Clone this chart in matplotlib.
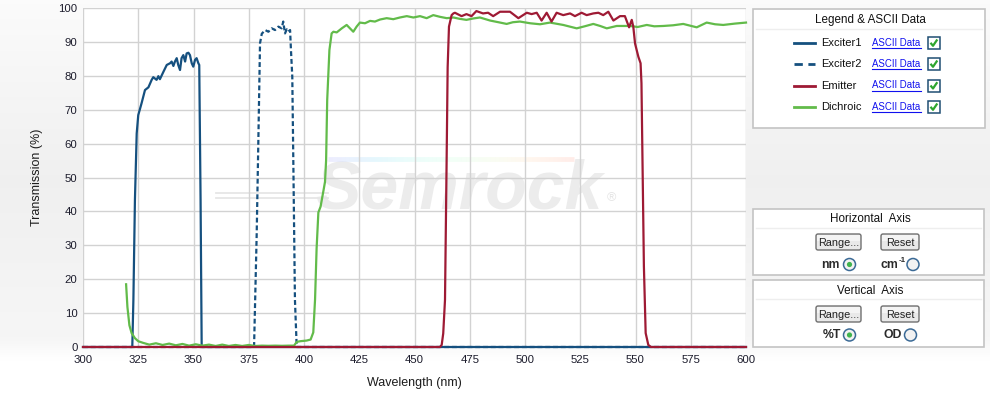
import numpy as np
import matplotlib
matplotlib.use("Agg")
import matplotlib.pyplot as plt
from matplotlib.patches import Rectangle, FancyBboxPatch, Circle
from matplotlib.collections import LineCollection

# ---------------- data ----------------
x_ticks = [300, 325, 350, 375, 400, 425, 450, 475, 500, 525, 550, 575, 600]
y_ticks = [0, 10, 20, 30, 40, 50, 60, 70, 80, 90, 100]

ex1_wl = [300, 322.3, 322.8, 323.5, 324.3, 325.0, 326.5, 328.05, 329.6, 331.07, 331.8, 333.3,
          334.1, 334.8, 336.4, 337.9, 339.4, 340.1, 340.9, 341.6, 342.4, 343.1, 343.9, 344.6,
          345.4, 346.2, 346.9, 347.7, 348.4, 349.2, 349.9, 350.7, 351.4, 352.2, 352.6, 353.2,
          353.7, 600]
ex1_T = [0, 0, 13.9, 43.4, 63, 68.4, 71.9, 75.8, 76.6, 78.8, 79.6, 78.8,
         79.9, 79.0, 81.2, 83.2, 83.7, 84.2, 82.9, 84.2, 85.2, 83.2, 81.7, 85.2,
         86.1, 84.2, 86.6, 86.8, 86.1, 83.7, 82.7, 84.7, 85.2, 83.7, 83.2, 43.4,
         0, 0]

ex2_wl = [300, 377.4, 378.6, 379.4, 380.1, 380.9, 382.4, 383.9, 385.4, 386.9, 388.4, 389.9,
          390.6, 391.4, 392.2, 392.9, 393.7, 394.1, 394.7, 395.2, 395.9, 396.7, 600]
ex2_T = [0, 0, 33.5, 63, 89.6, 92.4, 93.5, 93, 94, 93.5, 94.5, 94,
         96, 92.5, 93.7, 93, 93.5, 87.6, 79.7, 53, 13.9, 0, 0]

em_wl = [300, 461.5, 462.3, 463.0, 463.8, 464.5, 465.0, 465.6, 466.8, 467.6, 468.3, 471.3,
         473.5, 475.8, 478, 481, 483.3, 485.6, 488.7, 493.2, 497, 500.8, 503, 505.3,
         507.5, 509.8, 512, 514.3, 517.3, 520.4, 522.6, 525.6, 527.9, 530.9, 533.2, 535.4,
         537.7, 540, 543, 545.2, 547.1, 548.3, 549.0, 549.8, 551.3, 552.3, 552.7, 553.2,
         553.8, 554.6, 555.8, 557, 600]
em_T = [0, 0, 0.6, 4, 13.9, 53, 82.5, 94.5, 97.9, 98.4, 98.6, 97.6,
        98.2, 97.6, 99.1, 98.4, 98.6, 97.6, 98.9, 98.9, 97, 98.6, 98.2, 98.6,
        96.3, 98.6, 96, 98.6, 97.9, 98.4, 97.6, 98.6, 97.9, 98.4, 98.6, 97.9,
        98.9, 96.3, 97.6, 97.6, 94.3, 96.5, 94.5, 89.5, 85.6, 83.7, 77.8, 53.2,
        23.8, 4.1, 0.6, 0, 0]

di_wl = [319.5, 320.1, 321.0, 322.0, 323.5, 325.0, 327.3, 330, 333, 336, 339, 342, 345, 348,
         351, 354, 357, 360, 363, 366, 369, 372, 375, 378, 381, 384, 387, 390, 393, 395.5,
         396.7, 398.2, 401.2, 403.0, 404.2, 405.0, 405.7, 406.5, 407.5, 408.8, 409.5, 410.0,
         410.5, 411.5, 412.5, 413.3, 414.8, 417.1, 419.3, 420.8, 422.3, 423.8, 425.3, 427.6,
         429.9, 432.1, 434.4, 437.4, 440.4, 443.4, 446.5, 449.5, 452.5, 455.5, 458.5, 461.5,
         464.6, 467.6, 470.5, 473.5, 476.5, 479.6, 484.2, 488, 491.7, 494.5, 497.7, 502.3,
         506.8, 511.3, 517.3, 523.4, 527, 530.9, 534, 537, 541.5, 547.5, 551, 555.1,
         558.5, 562.6, 567, 571.6, 577.7, 582.2, 586, 589.7, 595, 600]
di_T = [18.5, 11.8, 6.4, 4.1, 2.6, 1.7, 1.2, 0.7, 1.1, 0.6, 1.0, 0.5, 0.9, 0.4,
        0.8, 0.4, 0.7, 0.3, 0.7, 0.3, 0.6, 0.3, 0.6, 0.3, 0.4, 0.35, 0.4, 0.35, 0.4, 0.4,
        1.5, 1.7, 1.9, 2.2, 4.3, 14, 29, 39.7, 41.4, 46.1, 48.7, 55,
        72.9, 87.6, 92.5, 93, 92.8, 94, 95, 94, 93, 94.5, 95.7, 95.5,
        96.2, 96, 96.6, 97, 96.7, 97.2, 97.6, 97.2, 97.6, 97, 97.9, 97.4,
        97, 97.2, 96.8, 96.5, 96.9, 97.2, 96.3, 95.8, 95.3, 95.8, 96, 95.5,
        95.2, 95.7, 95, 94, 94.6, 95.3, 94.7, 94, 94.7, 94.7, 94.4, 95,
        94.6, 94.7, 94.9, 95.3, 94.3, 95.7, 95.2, 95, 95.4, 95.7]

series_names = ["Exciter1", "Exciter2", "Emitter", "Dichroic"]
C_BLUE, C_RED, C_GREEN = "#15507f", "#9e1a34", "#62bb4a"

plt.rcParams['font.family'] = ['Liberation Sans', 'DejaVu Sans']

W, H = 990, 400
fig = plt.figure(figsize=(W / 100, H / 100), dpi=100)

# ---------------- background (pixel coordinates) ----------------
bg = fig.add_axes([0, 0, 1, 1], zorder=-10)
bg.set_xlim(0, W)
bg.set_ylim(H, 0)
bg.axis('off')
rows = np.linspace(0, 1, 200)
lev = np.interp(rows, [0, 0.45, 0.85, 0.9, 1.0], [0.985, 0.94, 0.965, 1.0, 1.0])
grad = np.repeat(lev[:, None], 2, axis=1)
grad = np.dstack([grad, grad, grad])
bg.imshow(grad, extent=[0, W, H, 0], aspect='auto', interpolation='bilinear')

# ---------------- main chart ----------------
L, R, T, B = 83, 746, 8, 347
ax = fig.add_axes([L / W, 1 - B / H, (R - L) / W, (B - T) / H])
ax.set_facecolor('white')
ax.set_xlim(300, 600)
ax.set_ylim(0, 100)
ax.set_xticks(x_ticks)
ax.set_yticks(y_ticks)
ax.set_xticklabels([str(v) for v in x_ticks])
ax.set_yticklabels([str(v) for v in y_ticks])
ax.tick_params(length=0, labelsize=8.2, colors='#1c1c2c', pad=4)
ax.tick_params(axis='x', pad=6)
ax.grid(True, color='#d2d2d2', lw=1.0)
ax.set_axisbelow(True)
for s in ax.spines.values():
    s.set_visible(False)
ax.set_xlabel("Wavelength (nm)", fontsize=9, color='#1c1c1c', labelpad=8.5)
ax.set_ylabel("Transmission (%)", fontsize=9, color='#1c1c1c', labelpad=11)

# watermark
ax.text(0.350, 0.41, "Semrock", transform=ax.transAxes, fontsize=49, fontweight='bold',
        fontstyle='italic', color='#ececec', zorder=0.2, ha='left', va='baseline')
ax.text(0.79, 0.43, "®", transform=ax.transAxes, fontsize=9, color='#e4e4e4', zorder=0.2)
for yy in (0.455, 0.44):
    ax.plot([0.2, 0.37], [yy, yy], transform=ax.transAxes, color='#e6e6e6', lw=1.3, zorder=0.2)
xs = np.linspace(0.37, 0.74, 60)
segs = [[(xs[i], 0.555), (xs[i + 1], 0.555)] for i in range(len(xs) - 1)]
cols = plt.cm.rainbow(np.linspace(0.1, 0.9, len(segs)))
cols[:, 3] = 0.10
ax.add_collection(LineCollection(segs, colors=cols, lw=3.5, transform=ax.transAxes, zorder=0.2))

lw = 1.6
ax.plot(ex1_wl, ex1_T, color=C_BLUE, lw=lw, clip_on=False, zorder=3)
ax.plot(ex2_wl, ex2_T, color=C_BLUE, lw=lw, ls=(0, (2.2, 1.3)), clip_on=False, zorder=3)
ax.plot(di_wl, di_T, color=C_GREEN, lw=lw, clip_on=False, zorder=4)
ax.plot(em_wl, em_T, color=C_RED, lw=lw, clip_on=False, zorder=5)

# ---------------- side panels (pixel coordinates) ----------------
PANEL_EDGE = '#c4c4c4'

def panel(x0, y0, x1, y1, title, ty, sep):
    bg.add_patch(Rectangle((x0, y0), x1 - x0, y1 - y0, facecolor='white',
                           edgecolor=PANEL_EDGE, lw=1.2))
    bg.text((x0 + x1) / 2 + 2, ty, title, ha='center', va='center', fontsize=8.4, color='#111111')
    bg.plot([x0 + 3, x1 - 3], [sep, sep], color='#eeeeee', lw=1)

panel(752.5, 8.5, 985, 128, "Legend & ASCII Data", 19.5, 28.5)
panel(752.5, 208.5, 984, 275, "Horizontal  Axis", 219, 227.5)
panel(752.5, 279.5, 984, 347, "Vertical  Axis", 290.5, 298.5)

row_y = [43.3, 64.3, 86, 107.3]
styles = [dict(color=C_BLUE, ls='-'), dict(color=C_BLUE, ls=(0, (3.0, 2.0))),
          dict(color=C_RED, ls='-'), dict(color=C_GREEN, ls='-')]
for name, yy, st in zip(series_names, row_y, styles):
    bg.plot([794, 815], [yy, yy], lw=2, **st)
    bg.text(821, yy, name, ha='left', va='center', fontsize=8, color='#111111')
    bg.text(872, yy - 0.5, "ASCII Data", ha='left', va='center', fontsize=6.9, color='#1010ee')
    bg.plot([872, 920.5], [yy + 4.6, yy + 4.6], color='#1010ee', lw=0.8)
    bg.add_patch(Rectangle((927.5, yy - 6), 12, 12, facecolor='white', edgecolor='#1f4e73', lw=1.1))
    bg.plot([930.5, 933, 937.3], [yy - 0.5, yy + 2.5, yy - 3.8], color='#2ea52e', lw=1.6,
            solid_capstyle='butt')

def button(x0, x1, yc, label):
    bg.add_patch(FancyBboxPatch((x0, yc - 8), x1 - x0, 16,
                                boxstyle="round,pad=0,rounding_size=2",
                                facecolor='#e9e9e9', edgecolor='#707070', lw=1))
    bg.add_patch(Rectangle((x0 + 1, yc - 7), x1 - x0 - 2, 6, facecolor='#f4f4f4',
                           edgecolor='none'))
    bg.text((x0 + x1) / 2, yc + 0.5, label, ha='center', va='center', fontsize=7.8,
            color='#222222')

def radio(xc, yc, on):
    bg.add_patch(Circle((xc, yc), 6, facecolor='#f2f2f2', edgecolor='#3b6a96', lw=1.1))
    if on:
        bg.add_patch(Circle((xc, yc), 2.6, facecolor='#3fb34f', edgecolor='none'))

BOLD = dict(ha='left', va='center', fontsize=8.8, fontweight='bold', color='#2a2a2a')

button(816, 861, 242, "Range...")
button(881, 919, 242, "Reset")
bg.text(821, 265, "nm", **BOLD)
radio(849.5, 264.5, True)
bg.text(880.5, 265, "cm", **BOLD)
bg.text(898.5, 260.5, "-1", ha='left', va='center', fontsize=5.8, fontweight='bold',
        color='#2a2a2a')
radio(913, 264.5, False)

button(816, 861, 314, "Range...")
button(881, 919, 314, "Reset")
bg.text(823, 335.5, "%T", **BOLD)
radio(849.5, 335, True)
bg.text(884, 335.5, "OD", **BOLD)
radio(910.5, 335, False)

fig.savefig("out.png", dpi=100)
